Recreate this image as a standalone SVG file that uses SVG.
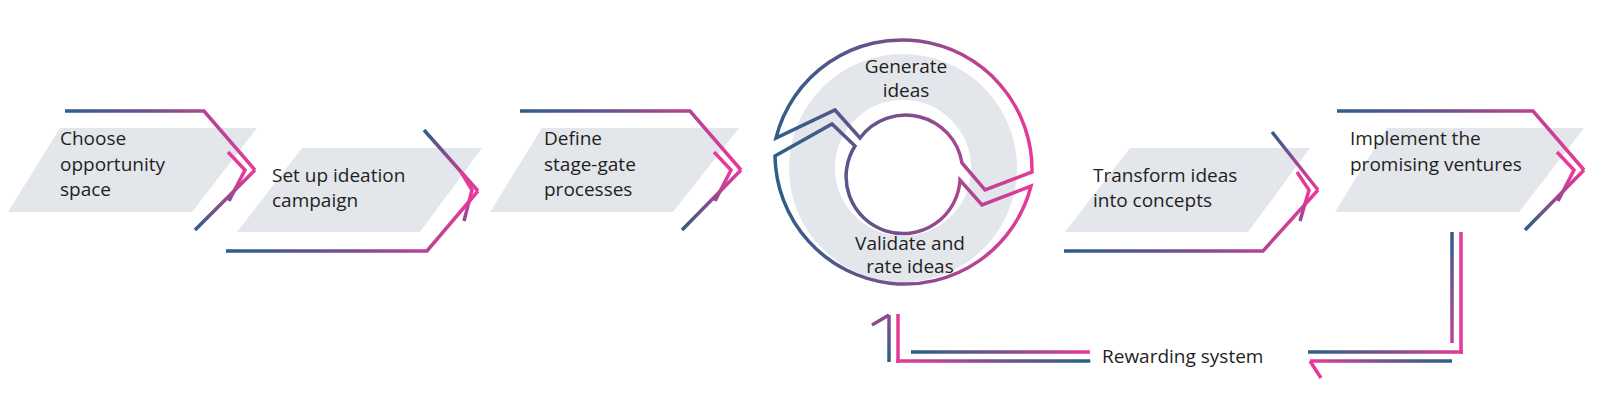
<svg xmlns="http://www.w3.org/2000/svg" width="1611" height="404" viewBox="0 0 1611 404">
<defs>
<linearGradient id="gH" x1="0" y1="0" x2="1" y2="0"><stop offset="0" stop-color="#2b5f88"/><stop offset="0.5" stop-color="#7a4f8c"/><stop offset="1" stop-color="#e8399a"/></linearGradient>
<linearGradient id="gHr" x1="0" y1="0" x2="1" y2="0"><stop offset="0" stop-color="#e8399a"/><stop offset="0.5" stop-color="#7a4f8c"/><stop offset="1" stop-color="#2b5f88"/></linearGradient>
<linearGradient id="gVd" x1="0" y1="0" x2="0" y2="1"><stop offset="0" stop-color="#e8399a"/><stop offset="0.45" stop-color="#a0468f"/><stop offset="1" stop-color="#2b5f88"/></linearGradient>
<linearGradient id="gVu" x1="0" y1="0" x2="0" y2="1"><stop offset="0" stop-color="#2b5f88"/><stop offset="0.55" stop-color="#a0468f"/><stop offset="1" stop-color="#e8399a"/></linearGradient>
<linearGradient id="gChev" x1="0" y1="0" x2="0" y2="1"><stop offset="0" stop-color="#e8399a"/><stop offset="0.5" stop-color="#e8399a"/><stop offset="1" stop-color="#8a4c8e"/></linearGradient>
<linearGradient id="gPB" x1="0" y1="0" x2="0" y2="1"><stop offset="0" stop-color="#8a4c8e"/><stop offset="1" stop-color="#2b5f88"/></linearGradient>
<linearGradient id="gBP" x1="0" y1="0" x2="0" y2="1"><stop offset="0" stop-color="#2b5f88"/><stop offset="1" stop-color="#c0439a"/></linearGradient>
<linearGradient id="gC" gradientUnits="userSpaceOnUse" x1="773" y1="0" x2="1033" y2="0"><stop offset="0" stop-color="#2b5f88"/><stop offset="0.5" stop-color="#7a4f8c"/><stop offset="1" stop-color="#e8399a"/></linearGradient>
</defs>
<style>
.box{fill:#e3e6ea}
.ln{fill:none;stroke-width:3.5;stroke-linejoin:miter}
.t{font-family:"Open Sans","Liberation Sans",sans-serif;font-size:19px;fill:#1f1f1f}
.tc{font-family:"Open Sans","Liberation Sans",sans-serif;font-size:19px;fill:#1f1f1f;text-anchor:middle}
</style>
<rect width="1611" height="404" fill="#fff"/>

<g id="step1">
<polygon class="box" points="60,128 257,128 192,212 8,212"/>
<path class="ln" stroke="url(#gH)" d="M65,111 H204 L255,170"/>
<path class="ln" stroke="url(#gVd)" d="M255,170 L195,230"/>
<path class="ln" stroke="url(#gChev)" d="M228,152 L245,170 L229,201"/>
<text class="t" x="60" y="145">Choose</text><text class="t" x="60" y="171">opportunity</text><text class="t" x="60" y="196">space</text>
</g>

<g id="step2">
<polygon class="box" points="302,148 482,148 420,232 237,232"/>
<path class="ln" stroke="url(#gH)" d="M226,251 H427 L478,191"/>
<path class="ln" stroke="url(#gVu)" d="M424,130 L478,191"/>
<path class="ln" stroke="url(#gChev)" d="M461,172 L472,190 L464,221"/>
<text class="t" x="272" y="182">Set up ideation</text><text class="t" x="272" y="207">campaign</text>
</g>

<g id="step3">
<polygon class="box" points="542,128 739,128 673,212 490,212"/>
<path class="ln" stroke="url(#gH)" d="M520,111 H690 L741,170"/>
<path class="ln" stroke="url(#gVd)" d="M741,170 L682,230"/>
<path class="ln" stroke="url(#gChev)" d="M714,152 L731,170 L715,201"/>
<text class="t" x="544" y="145">Define</text><text class="t" x="544" y="171">stage-gate</text><text class="t" x="544" y="196">processes</text>
</g>

<g id="cycle">
<circle cx="903" cy="168" r="91" fill="none" stroke="#e3e6ea" stroke-width="46"/>
<path class="ln" stroke="url(#gC)" stroke-width="3.5" d="M776,138 A130,130 0 0 1 1032,172 L985,190 L962,163 A57,57 0 0 0 860,138 L835,110 Z"/>
<path class="ln" stroke="url(#gC)" stroke-width="3.5" d="M775,156 L832,124 L855,146 A57,57 0 1 0 960,180 L982,205 L1031,186 A130,130 0 0 1 775,156 Z"/>
<text class="tc" x="906" y="73">Generate</text><text class="tc" x="906" y="97">ideas</text>
<text class="tc" x="910" y="250">Validate and</text><text class="tc" x="910" y="273">rate ideas</text>
</g>

<g id="step4">
<polygon class="box" points="1130,148 1310,148 1248,232 1065,232"/>
<path class="ln" stroke="url(#gH)" d="M1064,251 H1263 L1318,190"/>
<path class="ln" stroke="url(#gVu)" d="M1272,132 L1318,190"/>
<path class="ln" stroke="url(#gChev)" d="M1297,172 L1309,190 L1300,221"/>
<text class="t" x="1093" y="182">Transform ideas</text><text class="t" x="1093" y="207">into concepts</text>
</g>

<g id="step5">
<polygon class="box" points="1387,128 1584,128 1519,212 1335,212"/>
<path class="ln" stroke="url(#gH)" d="M1337,111 H1533 L1584,170"/>
<path class="ln" stroke="url(#gVd)" d="M1584,170 L1525,230"/>
<path class="ln" stroke="url(#gChev)" d="M1557,152 L1574,170 L1558,201"/>
<text class="t" x="1350" y="145">Implement the</text><text class="t" x="1350" y="171">promising ventures</text>
</g>

<g id="connectors">
<rect x="887.25" y="315" width="3.5" height="47" fill="url(#gPB)"/>
<line x1="872" y1="325" x2="889" y2="315" stroke="#8a4c8e" stroke-width="3.5"/>
<rect x="896.25" y="314" width="3.5" height="49" fill="#e8399a"/>
<rect x="896.25" y="359.25" width="194" height="3.5" fill="url(#gHr)"/>
<rect x="911" y="350.25" width="179" height="3.5" fill="url(#gH)"/>
<rect x="1459.25" y="232" width="3.5" height="122" fill="#e8399a"/>
<rect x="1308" y="350.25" width="155" height="3.5" fill="url(#gH)"/>
<rect x="1450.25" y="232" width="3.5" height="111" fill="url(#gBP)"/>
<rect x="1310" y="359.25" width="142" height="3.5" fill="url(#gHr)"/>
<line x1="1310" y1="361" x2="1321" y2="378" stroke="#e8399a" stroke-width="3.5"/>
</g>
<g id="label-rewarding"><text class="t" x="1102" y="363">Rewarding system</text></g>
</svg>
